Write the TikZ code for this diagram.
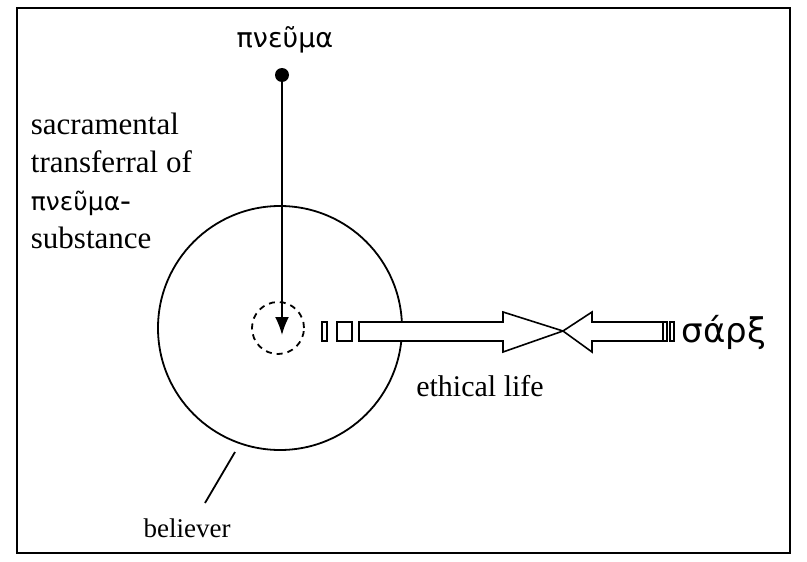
\documentclass[tikz,border=0pt]{standalone}
\usepackage{fontspec}
\usetikzlibrary{arrows.meta}
\setmainfont{Liberation Serif}
\newfontfamily\grk{DejaVu Sans}
\begin{document}
\begin{tikzpicture}[x=1pt,y=-1pt,line width=1.8pt,
  txt/.style={font=\fontsize{27}{38}\selectfont,inner sep=0pt},
  box/.style={draw,line width=1.6pt}]
\useasboundingbox (0,0) rectangle (807,562);
\draw[line width=1.2pt] (17,8) rectangle (790,553);
\node[circle,draw,minimum size=244pt,inner sep=0pt] (bel) at (280,328) {};
\node[circle,draw,dash pattern=on 6pt off 5pt,minimum size=52pt,inner sep=0pt] (in) at (278,328) {};
\node[txt] (pn) at (285,40) {\grk πνεῦμα};
\fill (282,75) circle (7);
\coordinate (dot) at (282,75);
\draw[-{Latex[length=18pt,width=14pt]}] (dot) -- (282,335);
\node[txt,font=\fontsize{31}{38}\selectfont,align=left,anchor=north west] (sac) at (30,112) {sacramental\\transferral of\\{\grk\fontsize{25}{38}\selectfont πνεῦμα}-\\substance};
\draw[box] (322,322) rectangle (327,341);
\draw[box] (337,322) rectangle (352,341);
\draw[box,fill=white] (359,322) -- (503,322) -- (503,312) -- (563,331) -- (503,352) -- (503,341) -- (359,341) -- cycle;
\draw[box,fill=white] (663,322) -- (592,322) -- (592,312) -- (563,331) -- (592,352) -- (592,341) -- (663,341) -- cycle;
\draw[box] (663,322) rectangle (667,341);
\draw[box] (670,322) rectangle (674,341);
\node[txt,font=\grk\fontsize{34}{38}\selectfont,anchor=west] (sarx) at (681,332) {σάρξ};
\node[txt,font=\fontsize{30}{38}\selectfont] (eth) at (480,386) {ethical life};
\node[txt] (blv) at (187,528) {believer};
\draw (235,452) -- (205,503);
\end{tikzpicture}
\end{document}
